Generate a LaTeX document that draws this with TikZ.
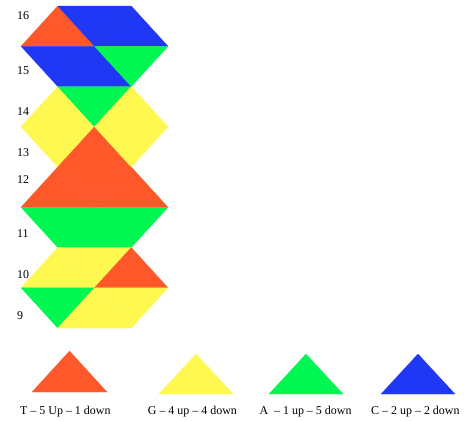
\documentclass[tikz,border=0pt]{standalone}
\usepackage{fontspec}
\setmainfont{Liberation Serif}
\definecolor{cO}{RGB}{255,88,42}
\definecolor{cY}{RGB}{255,248,80}
\definecolor{cG}{RGB}{0,246,80}
\definecolor{cB}{RGB}{30,56,245}
\newcommand\triup[3]{% x, ybottom, colour
  \filldraw[#3, line width=0.2pt, line join=round] (#1,#2) -- ++(73.5,0) -- ++(-36.75,-40.25) -- cycle;}
\newcommand\tridn[3]{% x, ytop, colour
  \filldraw[#3, line width=0.2pt, line join=round] (#1,#2) -- ++(73.5,0) -- ++(-36.75,40.25) -- cycle;}
\begin{document}
\begin{tikzpicture}[x=1bp,y=-1bp,
  rowlab/.style={anchor=base west, inner sep=0pt, font=\fontsize{12}{14}\selectfont},
  leglab/.style={anchor=base west, inner sep=0pt, font=\fontsize{12}{14}\selectfont}]
\useasboundingbox[fill=white] (0,0) rectangle (471,420);
% band 16 (top 6)
\triup{21}{46.25}{cO} \tridn{57.75}{6}{cB} \triup{94.5}{46.25}{cB}
% band 15 (top 46.25)
\tridn{21}{46.25}{cB} \triup{57.75}{86.5}{cB} \tridn{94.5}{46.25}{cG}
% band 14 (top 86.5)
\triup{21}{126.75}{cY} \tridn{57.75}{86.5}{cG} \triup{94.5}{126.75}{cY}
% band 13 (top 126.75)
\tridn{21}{126.75}{cY} \triup{57.75}{167}{cO} \tridn{94.5}{126.75}{cY}
% band 12 (top 167)
\triup{21}{207.25}{cO} \tridn{57.75}{167}{cO} \triup{94.5}{207.25}{cO}
% band 11 (top 207.25)
\tridn{21}{207.25}{cG} \triup{57.75}{247.5}{cG} \tridn{94.5}{207.25}{cG}
% band 10 (top 247.5)
\triup{21}{287.75}{cY} \tridn{57.75}{247.5}{cY} \triup{94.5}{287.75}{cO}
% band 9 (top 287.75)
\tridn{21}{287.75}{cG} \triup{57.75}{328}{cY} \tridn{94.5}{287.75}{cY}
% row labels
\node[rowlab] (l16) at (17,19) {16};
\node[rowlab] (l15) at (17,74) {15};
\node[rowlab] (l14) at (17,115) {14};
\node[rowlab] (l13) at (17,156) {13};
\node[rowlab] (l12) at (17,183) {12};
\node[rowlab] (l11) at (17,237) {11};
\node[rowlab] (l10) at (17,278) {10};
\node[rowlab] (l9) at (17,319) {9};
% legend triangles
\filldraw[cO, line width=0.2pt] (32,392) -- (107,392) -- (69.5,351) -- cycle;
\filldraw[cY, line width=0.2pt] (159,394) -- (233,394) -- (196,354) -- cycle;
\filldraw[cG, line width=0.2pt] (269,394) -- (343,394) -- (306,354) -- cycle;
\filldraw[cB, line width=0.2pt] (381,394) -- (455,394) -- (418,354) -- cycle;
% legend labels
\node[leglab] (kT) at (20,414) {T – 5 Up – 1 down};
\node[leglab] (kG) at (147.7,414) {G – 4 up – 4 down};
\node[leglab] (kA) at (259.3,414) {A\hspace{0.25em} – 1 up – 5 down};
\node[leglab] (kC) at (371,414) {C – 2 up – 2 down};
\end{tikzpicture}
\end{document}
